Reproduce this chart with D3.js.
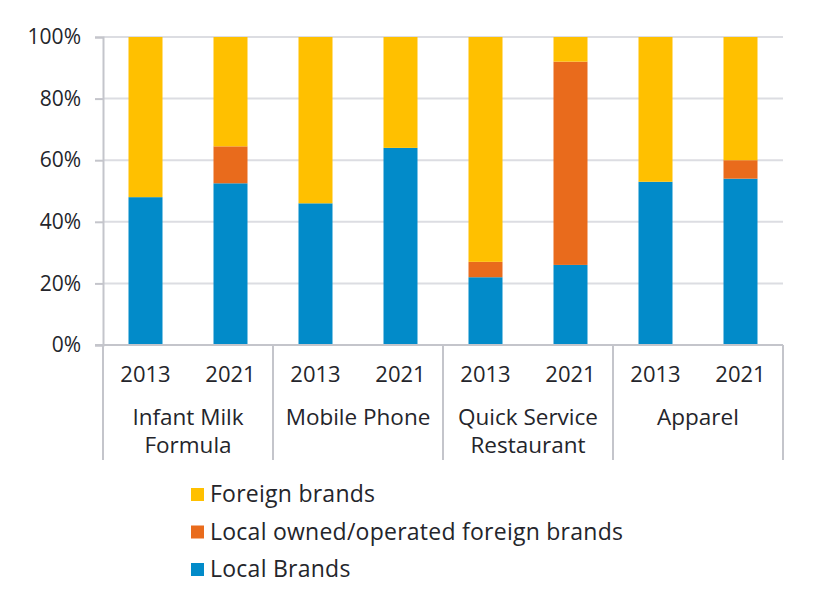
<!DOCTYPE html>
<html>
<head>
<meta charset="utf-8">
<script src="https://cdn.jsdelivr.net/npm/d3@7"></script>
<style>
  body { margin: 0; background: #fff; }
  text { font-family: "Open Sans", sans-serif; fill: #24252b; }
</style>
</head>
<body>
<div id="chart"></div>
<script>
const categories = [["Infant Milk", "Formula"], ["Mobile Phone"], ["Quick Service", "Restaurant"], ["Apparel"]];
const years = ["2013", "2021"];
const seriesNames = ["Local Brands", "Local owned/operated foreign brands", "Foreign brands"];
const seriesColors = ["#028bc9", "#e96b1c", "#ffc000"];
// one value per bar, in order: category x year
const localBrands = [48, 52.5, 46, 64, 22, 26, 53, 54];
const localOperated = [0, 12, 0, 0, 5, 66, 0, 6];
const foreignBrands = [52, 35.5, 54, 36, 73, 8, 47, 40];
const yTicks = [0, 20, 40, 60, 80, 100];

const width = 825;
const height = 595;
const margin = { top: 37, right: 42, bottom: 250, left: 103 };

const rows = [];
categories.forEach((c, i) => {
    years.forEach((yr, j) => {
        const k = i * 2 + j;
        rows.push({ cat: i, year: yr, local: localBrands[k], lo: localOperated[k], foreign: foreignBrands[k] });
    });
});

const svg = d3.select("#chart")
    .append("svg")
    .attr("width", width)
    .attr("height", height);

const x0 = d3.scaleBand()
    .domain(d3.range(categories.length))
    .range([margin.left, width - margin.right]);

const x1 = d3.scaleBand()
    .domain(years)
    .range([0, x0.bandwidth()])
    .paddingInner(0.6)
    .paddingOuter(0.3);

const y = d3.scaleLinear()
    .domain([0, 100])
    .range([height - margin.bottom, margin.top]);

// gridlines
svg.append("g")
    .selectAll("line")
    .data(yTicks.slice(1))
    .join("line")
    .attr("x1", margin.left)
    .attr("x2", width - margin.right)
    .attr("y1", d => y(d))
    .attr("y2", d => y(d))
    .attr("stroke", "#dcdde2")
    .attr("stroke-width", 2);

const stack = d3.stack().keys(["local", "lo", "foreign"]);
const layers = stack(rows);

svg.append("g")
    .selectAll("g")
    .data(layers)
    .join("g")
    .attr("fill", (d, i) => seriesColors[i])
    .selectAll("rect")
    .data(d => d)
    .join("rect")
    .attr("x", d => x0(d.data.cat) + x1(d.data.year))
    .attr("y", d => y(d[1]))
    .attr("width", x1.bandwidth())
    .attr("height", d => y(d[0]) - y(d[1]));

// y axis
const yAxis = svg.append("g")
    .attr("transform", `translate(${margin.left},0)`)
    .call(d3.axisLeft(y).tickValues(yTicks).tickFormat(d => d + "%").tickSize(8).tickPadding(14));
yAxis.select(".domain").attr("stroke", "#c4c5cb").attr("stroke-width", 2);
yAxis.selectAll(".tick line").attr("stroke", "#c4c5cb").attr("stroke-width", 2);
yAxis.selectAll(".tick text").style("font-size", "21px").attr("fill", "#24252b");

// x axis baseline and category separators
const base = y(0);
svg.append("line")
    .attr("x1", margin.left - 8)
    .attr("x2", width - margin.right)
    .attr("y1", base)
    .attr("y2", base)
    .attr("stroke", "#c4c5cb")
    .attr("stroke-width", 2);

const seps = d3.range(categories.length + 1).map(i => i < categories.length ? x0(i) : x0(i - 1) + x0.bandwidth());
svg.append("g")
    .selectAll("line")
    .data(seps)
    .join("line")
    .attr("x1", d => d)
    .attr("x2", d => d)
    .attr("y1", base)
    .attr("y2", 460)
    .attr("stroke", "#c4c5cb")
    .attr("stroke-width", 2);

// year labels
svg.append("g")
    .selectAll("text")
    .data(rows)
    .join("text")
    .attr("x", d => x0(d.cat) + x1(d.year) + x1.bandwidth() / 2)
    .attr("y", 382)
    .attr("text-anchor", "middle")
    .style("font-size", "22px")
    .text(d => d.year);

// category labels
const catText = svg.append("g")
    .selectAll("text")
    .data(categories)
    .join("text")
    .attr("x", (d, i) => x0(i) + x0.bandwidth() / 2)
    .attr("y", 425)
    .attr("text-anchor", "middle")
    .style("font-size", "22.5px");
catText.selectAll("tspan")
    .data(d => d)
    .join("tspan")
    .attr("x", function () { return this.parentNode.getAttribute("x"); })
    .attr("dy", (d, i) => i === 0 ? 0 : 28)
    .text(d => d);

// legend
const legendOrder = [2, 1, 0];
const legend = svg.append("g")
    .attr("transform", "translate(191, 488)");
legendOrder.forEach((s, i) => {
    legend.append("rect")
        .attr("x", 0)
        .attr("y", i * 37.5)
        .attr("width", 13)
        .attr("height", 13)
        .attr("fill", seriesColors[s]);
    legend.append("text")
        .attr("x", 19)
        .attr("y", i * 37.5 + 14)
        .style("font-size", "23px")
        .style("letter-spacing", "0.25px")
        .text(seriesNames[s]);
});
</script>
</body>
</html>
